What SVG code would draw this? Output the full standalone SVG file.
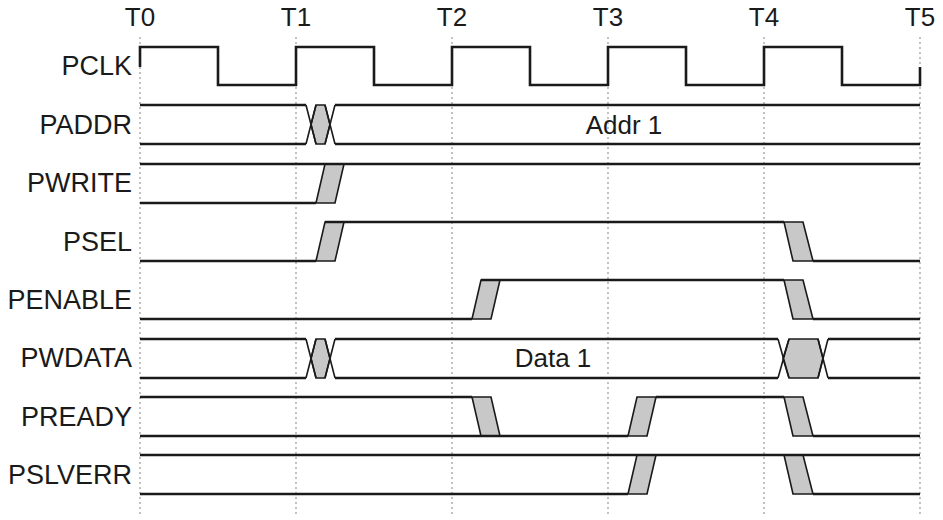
<svg xmlns="http://www.w3.org/2000/svg" width="943" height="520" viewBox="0 0 943 520">
<style>
.lbl{font-family:"Liberation Sans",Arial,sans-serif;font-size:26px;fill:#1a1a1a}
.sl{font-size:27px}
.grid{stroke:#999;stroke-width:1.2;stroke-dasharray:2 3;fill:none}
.sig{stroke:#1a1a1a;stroke-width:2.6;fill:none}
.tr{stroke:#1a1a1a;stroke-width:1.6;fill:#c8c8c8;stroke-linejoin:miter}
.xl{stroke:#1a1a1a;stroke-width:1.6;fill:none}
</style>
<rect width="943" height="520" fill="#fff"/>
<g id="grid">
<path class="grid" d="M140,37V516M296,37V516M452,37V516M608,37V516M764,37V516M920,37V516"/>
</g>
<g id="time-labels" class="lbl" text-anchor="middle">
<text x="140" y="26">T0</text><text x="296" y="26">T1</text><text x="452" y="26">T2</text>
<text x="608" y="26">T3</text><text x="764" y="26">T4</text><text x="920" y="26">T5</text>
</g>
<g id="signal-labels" class="lbl sl" text-anchor="end">
<text x="132" y="75">PCLK</text>
<text x="132" y="134">PADDR</text>
<text x="132" y="192">PWRITE</text>
<text x="132" y="251">PSEL</text>
<text x="132" y="309">PENABLE</text>
<text x="132" y="367">PWDATA</text>
<text x="132" y="426">PREADY</text>
<text x="132" y="484">PSLVERR</text>
</g>
<g id="connectors">
<g id="PCLK"><path class="sig" d="M140,67V47H218V85H296V47H374V85H452V47H530V85H608V47H686V85H764V47H842V85H920V67"/></g>
<g id="PADDR">
<polygon class="tr" points="311,124.5 316,105 325,105 330,124.5 325,144 316,144"/>
<path class="xl" d="M306,105L316,144M306,144L316,105M325,105L335,144M325,144L335,105"/>
<path class="sig" d="M140,105H306M140,144H306M335,105H920M335,144H920"/>
<text class="lbl" x="624" y="134" text-anchor="middle">Addr 1</text>
</g>
<g id="PWRITE">
<polygon class="tr" points="316,203 325,164 344,164 335,203"/>
<path class="sig" d="M140,164H920M140,203H316"/>
</g>
<g id="PSEL">
<polygon class="tr" points="316,261 325,222 344,222 335,261"/>
<polygon class="tr" points="784,222 803,222 813,261 793,261"/>
<path class="sig" d="M140,261H316M325,222H784M813,261H920"/>
</g>
<g id="PENABLE">
<polygon class="tr" points="472,319 481,280 500,280 491,319"/>
<polygon class="tr" points="784,280 803,280 813,319 793,319"/>
<path class="sig" d="M140,319H472M481,280H784M813,319H920"/>
</g>
<g id="PWDATA">
<polygon class="tr" points="311,358.5 316,339 325,339 330,358.5 325,378 316,378"/>
<path class="xl" d="M306,339L316,378M306,378L316,339M325,339L335,378M325,378L335,339"/>
<polygon class="tr" points="783,358.5 789,339 818,339 823,358.5 818,378 789,378"/>
<path class="xl" d="M778,339L789,378M778,378L789,339M818,339L828,378M818,378L828,339"/>
<path class="sig" d="M140,339H306M140,378H306M335,339H778M335,378H778M828,339H920M828,378H920"/>
<text class="lbl" x="553" y="367" text-anchor="middle">Data 1</text>
</g>
<g id="PREADY">
<polygon class="tr" points="472,397 491,397 500,436 481,436"/>
<polygon class="tr" points="628,436 637,397 656,397 647,436"/>
<polygon class="tr" points="784,397 803,397 813,436 793,436"/>
<path class="sig" d="M140,397H472M140,436H628M656,397H784M813,436H920"/>
</g>
<g id="PSLVERR">
<polygon class="tr" points="628,494 637,455 656,455 647,494"/>
<polygon class="tr" points="784,455 803,455 813,494 793,494"/>
<path class="sig" d="M140,455H920M140,494H628M813,494H920"/>
</g>
</g>
</svg>
